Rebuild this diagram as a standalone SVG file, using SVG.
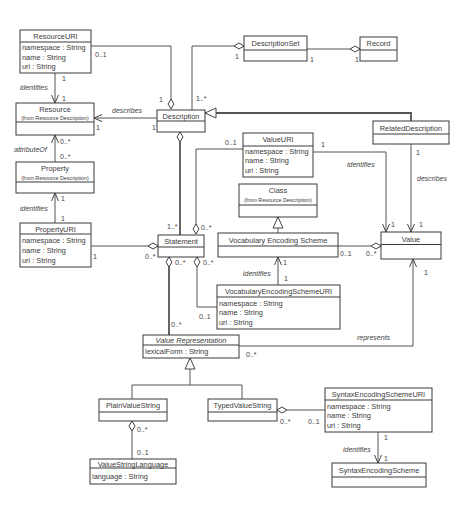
<svg xmlns="http://www.w3.org/2000/svg" width="474" height="511" viewBox="0 0 474 511">
<style>
.bx{fill:#fff;stroke:#3a3a3a;stroke-width:1}
.sp{stroke:#3a3a3a;stroke-width:1}
.t{font-family:"Liberation Sans",Arial,sans-serif;font-size:7.4px;fill:#3a3a3a}
.tc{text-anchor:middle}
.s{font-size:5.4px}
.i{font-style:italic}
.l{font-family:"Liberation Sans",Arial,sans-serif;font-size:7px;fill:#444}
.c{fill:none;stroke:#555;stroke-width:1}
.k{stroke-width:1.8}
.d{marker-start:url(#dia)}
.a{marker-end:url(#arr)}
.g{marker-end:url(#tri)}
</style>
<defs>
<marker id="dia" markerUnits="userSpaceOnUse" markerWidth="12" markerHeight="8" viewBox="-1 -1 12 8" refX="0" refY="3" orient="auto"><polygon points="0,3 5,0 10,3 5,6" fill="#fff" stroke="#444" stroke-width="1"/></marker>
<marker id="arr" markerUnits="userSpaceOnUse" markerWidth="10" markerHeight="9" viewBox="-1 -1 10 9" refX="8" refY="3.5" orient="auto"><polyline points="0,0 8,3.5 0,7" fill="none" stroke="#444" stroke-width="1"/></marker>
<marker id="tri" markerUnits="userSpaceOnUse" markerWidth="13" markerHeight="12" viewBox="-1 -1 13 12" refX="11" refY="5" orient="auto"><polygon points="0,0 11,5 0,10" fill="#fff" stroke="#444" stroke-width="1"/></marker>
</defs>
<rect width="474" height="511" fill="#fff"/>
<g id="connectors">
<path class="c d" d="M171,109 L171,46 L91,46"/>
<path class="c a" d="M55,73 L55,103"/>
<path class="c a" d="M157,118 L94,118"/>
<path class="c d" d="M244,46 L192,46 L192,110"/>
<path class="c d" d="M360,49 L307,49"/>
<path class="c k g" d="M411,121 L411,113 L205,113"/>
<path class="c k d" d="M180,132 L180,235"/>
<path class="c d" d="M196,234 L196,149 L243,149"/>
<path class="c a" d="M313,152 L386,152 L386,232"/>
<path class="c a" d="M411,144 L411,232"/>
<path class="c g" d="M278,233 L278,217"/>
<path class="c d" d="M381,246 L338,246"/>
<path class="c a" d="M278,285 L278,257"/>
<path class="c a" d="M55,223 L55,193"/>
<path class="c a" d="M55,162 L55,135"/>
<path class="c d" d="M158,246 L91,246"/>
<path class="c k d" d="M169,257 L169,335"/>
<path class="c d" d="M197,257 L197,307 L217,307"/>
<path class="c a" d="M239,346 L413,346 L413,259"/>
<path class="c g" d="M190,385 L190,358"/>
<path class="c" d="M132,399 L132,385 L242,385 L242,399"/>
<path class="c d" d="M132,421 L132,459"/>
<path class="c d" d="M277,410 L325,410"/>
<path class="c a" d="M378,432 L378,463"/>
<text class="l" x="95" y="57">0..1</text>
<text class="l" x="159" y="102">1</text>
<text class="l i" x="20" y="90">identifies</text>
<text class="l" x="62" y="81">1</text>
<text class="l" x="62" y="101">1</text>
<text class="l i" x="112" y="113">describes</text>
<text class="l" x="96" y="130">1</text>
<text class="l" x="152" y="130">1</text>
<text class="l" x="235" y="59">1</text>
<text class="l" x="196" y="101">1..*</text>
<text class="l" x="310" y="62">1</text>
<text class="l" x="355" y="62">1</text>
<text class="l" x="167" y="229">1..*</text>
<text class="l" x="201" y="230">0..*</text>
<text class="l" x="225" y="145">0..1</text>
<text class="l" x="321" y="147">1</text>
<text class="l i" x="347" y="167">identifies</text>
<text class="l" x="391" y="227">1</text>
<text class="l" x="416" y="155">1</text>
<text class="l i" x="417" y="181">describes</text>
<text class="l" x="419" y="227">1</text>
<text class="l" x="340" y="256">0..1</text>
<text class="l" x="366" y="256">0..*</text>
<text class="l" x="283" y="265">1</text>
<text class="l i" x="243" y="276">identifies</text>
<text class="l" x="284" y="281">1</text>
<text class="l i" x="20" y="211">identifies</text>
<text class="l" x="61" y="201">1</text>
<text class="l" x="61" y="221">1</text>
<text class="l i" x="14" y="152">attributeOf</text>
<text class="l" x="60" y="144">0..*</text>
<text class="l" x="60" y="159">0..*</text>
<text class="l" x="93" y="259">1</text>
<text class="l" x="145" y="259">0..*</text>
<text class="l" x="175" y="265">0..*</text>
<text class="l" x="171" y="327">0..*</text>
<text class="l" x="203" y="265">0..*</text>
<text class="l" x="199" y="319">0..1</text>
<text class="l i" x="357" y="340">represents</text>
<text class="l" x="246" y="357">0..*</text>
<text class="l" x="424" y="275">1</text>
<text class="l" x="137" y="432">0..*</text>
<text class="l" x="137" y="455">0..1</text>
<text class="l" x="280" y="424">0..*</text>
<text class="l" x="308" y="424">0..1</text>
<text class="l" x="384" y="440">1</text>
<text class="l i" x="343" y="452">identifies</text>
<text class="l" x="384" y="461">1</text>
</g>
<g id="ResourceURI">
<rect class="bx" x="20" y="30" width="71" height="43"/>
<line class="sp" x1="20" y1="42" x2="91" y2="42"/>
<text class="t tc" x="55.5" y="39">ResourceURI</text>
<text class="t" x="22" y="50">namespace : String</text>
<text class="t" x="22" y="59.5">name : String</text>
<text class="t" x="22" y="69">uri : String</text>
</g>
<g id="Resource">
<rect class="bx" x="16" y="103" width="78" height="32"/>
<line class="sp" x1="16" y1="122" x2="94" y2="122"/>
<text class="t tc" x="55" y="112">Resource</text>
<text class="t tc s" x="55" y="120">(from Resource Description)</text>
</g>
<g id="Description">
<rect class="bx" x="157" y="110" width="48" height="22"/>
<line class="sp" x1="157" y1="121" x2="205" y2="121"/>
<text class="t tc" x="181" y="118.5">Description</text>
</g>
<g id="DescriptionSet">
<rect class="bx" x="244" y="36" width="63" height="25"/>
<line class="sp" x1="244" y1="50" x2="307" y2="50"/>
<text class="t tc" x="275.5" y="46">DescriptionSet</text>
</g>
<g id="Record">
<rect class="bx" x="360" y="37" width="37" height="24"/>
<line class="sp" x1="360" y1="50" x2="397" y2="50"/>
<text class="t tc" x="378.5" y="46">Record</text>
</g>
<g id="RelatedDescription">
<rect class="bx" x="373" y="121" width="76" height="23"/>
<line class="sp" x1="373" y1="134" x2="449" y2="134"/>
<text class="t tc" x="411" y="130.5">RelatedDescription</text>
</g>
<g id="ValueURI">
<rect class="bx" x="243" y="133" width="70" height="44"/>
<line class="sp" x1="243" y1="146" x2="313" y2="146"/>
<text class="t tc" x="278" y="142">ValueURI</text>
<text class="t" x="245" y="154">namespace : String</text>
<text class="t" x="245" y="163">name : String</text>
<text class="t" x="245" y="172.5">uri : String</text>
</g>
<g id="Class">
<rect class="bx" x="239" y="184" width="78" height="33"/>
<line class="sp" x1="239" y1="205" x2="317" y2="205"/>
<text class="t tc" x="278" y="193">Class</text>
<text class="t tc s" x="278" y="202">(from Resource Description)</text>
</g>
<g id="Property">
<rect class="bx" x="16" y="162" width="78" height="31"/>
<line class="sp" x1="16" y1="182" x2="94" y2="182"/>
<text class="t tc" x="55" y="171">Property</text>
<text class="t tc s" x="55" y="179.5">(from Resource Description)</text>
</g>
<g id="PropertyURI">
<rect class="bx" x="20" y="223" width="71" height="44"/>
<line class="sp" x1="20" y1="234" x2="91" y2="234"/>
<text class="t tc" x="55.5" y="231.5">PropertyURI</text>
<text class="t" x="22" y="243">namespace : String</text>
<text class="t" x="22" y="253">name : String</text>
<text class="t" x="22" y="263">uri : String</text>
</g>
<g id="Statement">
<rect class="bx" x="158" y="235" width="46" height="22"/>
<line class="sp" x1="158" y1="247" x2="204" y2="247"/>
<text class="t tc" x="181" y="243.5">Statement</text>
</g>
<g id="VocabularyEncodingScheme">
<rect class="bx" x="218" y="233" width="120" height="24"/>
<line class="sp" x1="218" y1="246" x2="338" y2="246"/>
<text class="t tc" x="278" y="242.5">Vocabulary Encoding Scheme</text>
</g>
<g id="Value">
<rect class="bx" x="381" y="232" width="60" height="27"/>
<line class="sp" x1="381" y1="244.5" x2="441" y2="244.5"/>
<text class="t tc" x="411" y="241.5">Value</text>
</g>
<g id="VocabularyEncodingSchemeURI">
<rect class="bx" x="217" y="285" width="123" height="44"/>
<line class="sp" x1="217" y1="297" x2="340" y2="297"/>
<text class="t tc" x="278.5" y="294">VocabularyEncodingSchemeURI</text>
<text class="t" x="219" y="305.5">namespace : String</text>
<text class="t" x="219" y="315">name : String</text>
<text class="t" x="219" y="324.5">uri : String</text>
</g>
<g id="ValueRepresentation">
<rect class="bx" x="143" y="335" width="96" height="23"/>
<line class="sp" x1="143" y1="345" x2="239" y2="345"/>
<text class="t tc i" x="191" y="342.5">Value Representation</text>
<text class="t" x="145" y="353.5">lexicalForm : String</text>
</g>
<g id="PlainValueString">
<rect class="bx" x="99" y="399" width="68" height="22"/>
<line class="sp" x1="99" y1="412" x2="167" y2="412"/>
<text class="t tc" x="133" y="408">PlainValueString</text>
</g>
<g id="TypedValueString">
<rect class="bx" x="208" y="399" width="69" height="22"/>
<line class="sp" x1="208" y1="412" x2="277" y2="412"/>
<text class="t tc" x="242.5" y="408">TypedValueString</text>
</g>
<g id="ValueStringLanguage">
<rect class="bx" x="90" y="459" width="86" height="25"/>
<line class="sp" x1="90" y1="468" x2="176" y2="468"/>
<text class="t tc" x="133" y="466.5">ValueStringLanguage</text>
<text class="t" x="92" y="479">language : String</text>
</g>
<g id="SyntaxEncodingSchemeURI">
<rect class="bx" x="325" y="388" width="107" height="44"/>
<line class="sp" x1="325" y1="400" x2="432" y2="400"/>
<text class="t tc" x="378.5" y="397">SyntaxEncodingSchemeURI</text>
<text class="t" x="327" y="408.5">namespace : String</text>
<text class="t" x="327" y="418">name : String</text>
<text class="t" x="327" y="427.5">uri : String</text>
</g>
<g id="SyntaxEncodingScheme">
<rect class="bx" x="332" y="463" width="94" height="24"/>
<line class="sp" x1="332" y1="477" x2="426" y2="477"/>
<text class="t tc" x="379" y="473">SyntaxEncodingScheme</text>
</g>
</svg>
